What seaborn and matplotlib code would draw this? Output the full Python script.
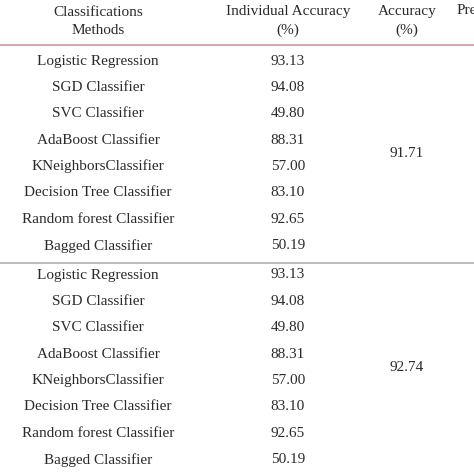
import matplotlib
matplotlib.use("Agg")
import matplotlib.pyplot as plt
import seaborn as sns

sns.set_style("white")
plt.rcParams['font.family'] = ['Liberation Serif', 'DejaVu Serif']

methods = ["Logistic Regression", "SGD Classifier", "SVC Classifier", "AdaBoost Classifier",
           "KNeighborsClassifier", "Decision Tree Classifier", "Random forest Classifier", "Bagged Classifier"]
individual = ["93.13", "94.08", "49.80", "88.31", "57.00", "83.10", "92.65", "50.19"]
group_acc = ["91.71", "92.74"]
headers = [("Classifications\nMethods", 98), ("Individual Accuracy\n(%)", 288), ("Accuracy\n(%)", 407), ("Pre", 470)]

fig = plt.figure(figsize=(4.74, 4.74), dpi=100)
ax = fig.add_axes([0, 0, 1, 1])
ax.set_xlim(0, 474)
ax.set_ylim(474, 0)
ax.axis("off")
col = "#2a2a2a"
fs = 11
for text, x in headers:
    if text == "Pre":
        ax.text(457, 10, "Pre", ha="left", va="center", fontsize=fs, color=col)
    else:
        ax.text(x, 21, text, ha="center", va="center", fontsize=fs, color=col, linespacing=1.5)
ax.axhline(45, color="#c99a9a", lw=1.2)
ax.axhline(263, color="#b0b0b0", lw=1.2)
for g in range(2):
    y0 = 61 if g == 0 else 275
    for i, (m, v) in enumerate(zip(methods, individual)):
        y = y0 + i * 26.4
        ax.text(98, y, m, ha="center", va="center", fontsize=fs, color=col)
        ax.text(288, y, v, ha="center", va="center", fontsize=fs, color=col)
    ax.text(407, y0 + 3.5 * 26.4, group_acc[g], ha="center", va="center", fontsize=fs, color=col)
fig.savefig("out.png", dpi=100)
